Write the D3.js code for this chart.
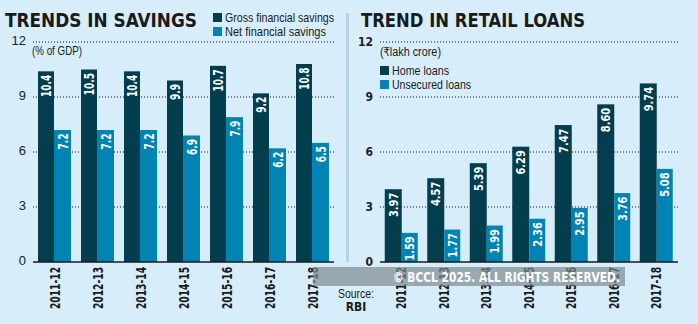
<!DOCTYPE html>
<html>
<head>
<meta charset="utf-8">
<script src="https://cdn.jsdelivr.net/npm/d3@7"></script>
<style>
  html, body { margin: 0; padding: 0; background: #d7eefa; }
  svg { display: block; }
  .reg { font-family: "Liberation Sans", "DejaVu Sans Condensed", sans-serif; }
  .bold { font-family: "DejaVu Sans Condensed", "Liberation Sans", sans-serif; font-weight: bold; }
</style>
</head>
<body>
<div id="chart"></div>
<script>
const YEARS = ["2011-12", "2012-13", "2013-14", "2014-15", "2015-16", "2016-17", "2017-18"];
const Y_TICKS = [0, 3, 6, 9, 12];

const grossSavings = [10.4, 10.5, 10.4, 9.9, 10.7, 9.2, 10.8];
const netSavings   = [7.2, 7.2, 7.2, 6.9, 7.9, 6.2, 6.5];

const homeLoans      = [3.97, 4.57, 5.39, 6.29, 7.47, 8.60, 9.74];
const unsecuredLoans = [1.59, 1.77, 1.99, 2.36, 2.95, 3.76, 5.08];

const DARK = "#033e4f";
const LIGHT = "#0184b4";

const W = 698, H = 324;
const svg = d3.select("#chart").append("svg")
  .attr("width", W).attr("height", H);

svg.append("rect").attr("width", W).attr("height", H).attr("fill", "#d7eefa");

const y = d3.scaleLinear().domain([0, 12]).range([262, 42]);

// text squeezed to the width it takes in the print layout
function label(sel, cls, x, yy, size, len, txt) {
  const t = sel.append("text").attr("class", cls)
    .attr("x", x).attr("y", yy)
    .style("font-size", size + "px").attr("fill", "#1a1a1a")
    .text(txt);
  if (len) t.attr("textLength", len).attr("lengthAdjust", "spacingAndGlyphs");
  return t;
}

function drawPanel(opt) {
  const g = svg.append("g");
  const x0 = d3.scaleBand().domain(YEARS)
    .range([opt.x0, opt.x1])
    .paddingInner(opt.gap / opt.step)
    .paddingOuter(opt.gap / opt.step / 2);
  const bw = x0.bandwidth();

  label(g, "bold", opt.titleX, 27, 19, opt.titleW, opt.title);

  // grid
  Y_TICKS.filter(t => t > 0).forEach(t => {
    g.append("line")
      .attr("x1", opt.x0).attr("x2", opt.x1 + opt.gridExtra)
      .attr("y1", y(t)).attr("y2", y(t))
      .attr("stroke", "#111").attr("stroke-width", 1)
      .attr("stroke-dasharray", "1,2");
  });

  Y_TICKS.forEach(t => {
    g.append("text")
      .attr("class", opt.tickBold ? "bold" : "reg")
      .attr("x", opt.x0 - 7).attr("y", y(t))
      .attr("text-anchor", "end").attr("dominant-baseline", "middle")
      .style("font-size", opt.tickBold ? "12px" : "13px")
      .style("font-weight", opt.tickBold ? 600 : 400)
      .attr("fill", "#222")
      .text(t);
  });

  // bars
  const series = [
    { vals: opt.a, color: DARK, off: 0, w: opt.w1 },
    { vals: opt.b, color: LIGHT, off: opt.w1, w: bw - opt.w1 }
  ];
  series.forEach(s => {
    const bars = g.append("g");
    bars.selectAll("rect").data(s.vals).enter().append("rect")
      .attr("x", (d, i) => x0(YEARS[i]) + s.off)
      .attr("width", s.w)
      .attr("y", d => y(d))
      .attr("height", d => y(0) - y(d))
      .attr("fill", s.color);
    bars.selectAll("text").data(s.vals).enter().append("text")
      .attr("class", "bold")
      .attr("transform", (d, i) =>
        `translate(${x0(YEARS[i]) + s.off + s.w / 2},${y(d) + 3.5}) rotate(-90)`)
      .attr("text-anchor", "end").attr("dominant-baseline", "central")
      .style("font-size", opt.valSize + "px").attr("fill", "#fff")
      .text(d => opt.fmt(d))
      .each(function () {
        const n = this.getComputedTextLength();
        d3.select(this).attr("textLength", n * opt.valSqueeze)
          .attr("lengthAdjust", "spacingAndGlyphs");
      });
  });

  // axis
  g.append("line")
    .attr("x1", opt.x0).attr("x2", opt.x1 + opt.gridExtra)
    .attr("y1", y(0)).attr("y2", y(0))
    .attr("stroke", "#1a1a1a").attr("stroke-width", 1.5);

  g.selectAll(".yr").data(YEARS).enter().append("text")
    .attr("class", "bold yr")
    .attr("transform", d => `translate(${x0(d) + bw / 2},${y(0) + 5}) rotate(-90)`)
    .attr("text-anchor", "end").attr("dominant-baseline", "central")
    .attr("textLength", 42).attr("lengthAdjust", "spacingAndGlyphs")
    .style("font-size", "13.5px").style("font-weight", 600).attr("fill", "#1a1a1a")
    .text(d => d);

  return g;
}

drawPanel({
  title: "TRENDS IN SAVINGS", titleX: 5, titleW: 192,
  x0: 33, x1: 334, step: 43, gap: 10, w1: 16, gridExtra: 0,
  a: grossSavings, b: netSavings, fmt: d3.format(".1f"), tickBold: false,
  valSize: 13.5, valSqueeze: 0.74
});

drawPanel({
  title: "TREND IN RETAIL LOANS", titleX: 361, titleW: 224,
  x0: 380, x1: 677.5, step: 42.5, gap: 9.5, w1: 17, gridExtra: 0.5,
  a: homeLoans, b: unsecuredLoans, fmt: d3.format(".2f"), tickBold: true,
  valSize: 12.5, valSqueeze: 0.88
});

// left legend
[["Gross financial savings", DARK, 13, 109], ["Net financial savings", LIGHT, 27, 101]].forEach(([t, c, yy, len]) => {
  svg.append("rect").attr("x", 213).attr("y", yy).attr("width", 9).attr("height", 9).attr("fill", c);
  label(svg, "reg", 225, yy + 8.5, 13, len, t);
});

label(svg, "reg", 32, 55, 12, 50, "(% of GDP)");

// right legend
label(svg, "reg", 380, 56, 12, 61, "(₹lakh crore)");

[["Home loans", DARK, 66, 57], ["Unsecured loans", LIGHT, 80, 79]].forEach(([t, c, yy, len]) => {
  svg.append("rect").attr("x", 380).attr("y", yy).attr("width", 9).attr("height", 9).attr("fill", c);
  label(svg, "reg", 392, yy + 8.5, 13, len, t);
});

// divider
svg.append("rect")
  .attr("x", 346).attr("y", 13).attr("width", 3).attr("height", 249)
  .attr("fill", "#b3d4e6");

// source
label(svg, "reg", 338, 298, 12, 36, "Source:");
label(svg, "bold", 356, 311, 12, null, "RBI").attr("text-anchor", "middle");

// watermark band
svg.append("rect")
  .attr("x", 313).attr("y", 267).attr("width", 312).attr("height", 19)
  .attr("fill", "#7f8a90").attr("opacity", 0.7);
label(svg, "bold", 393, 282, 14, 227, "© BCCL 2025. ALL RIGHTS RESERVED.")
  .attr("fill", "#fff");
</script>
</body>
</html>
